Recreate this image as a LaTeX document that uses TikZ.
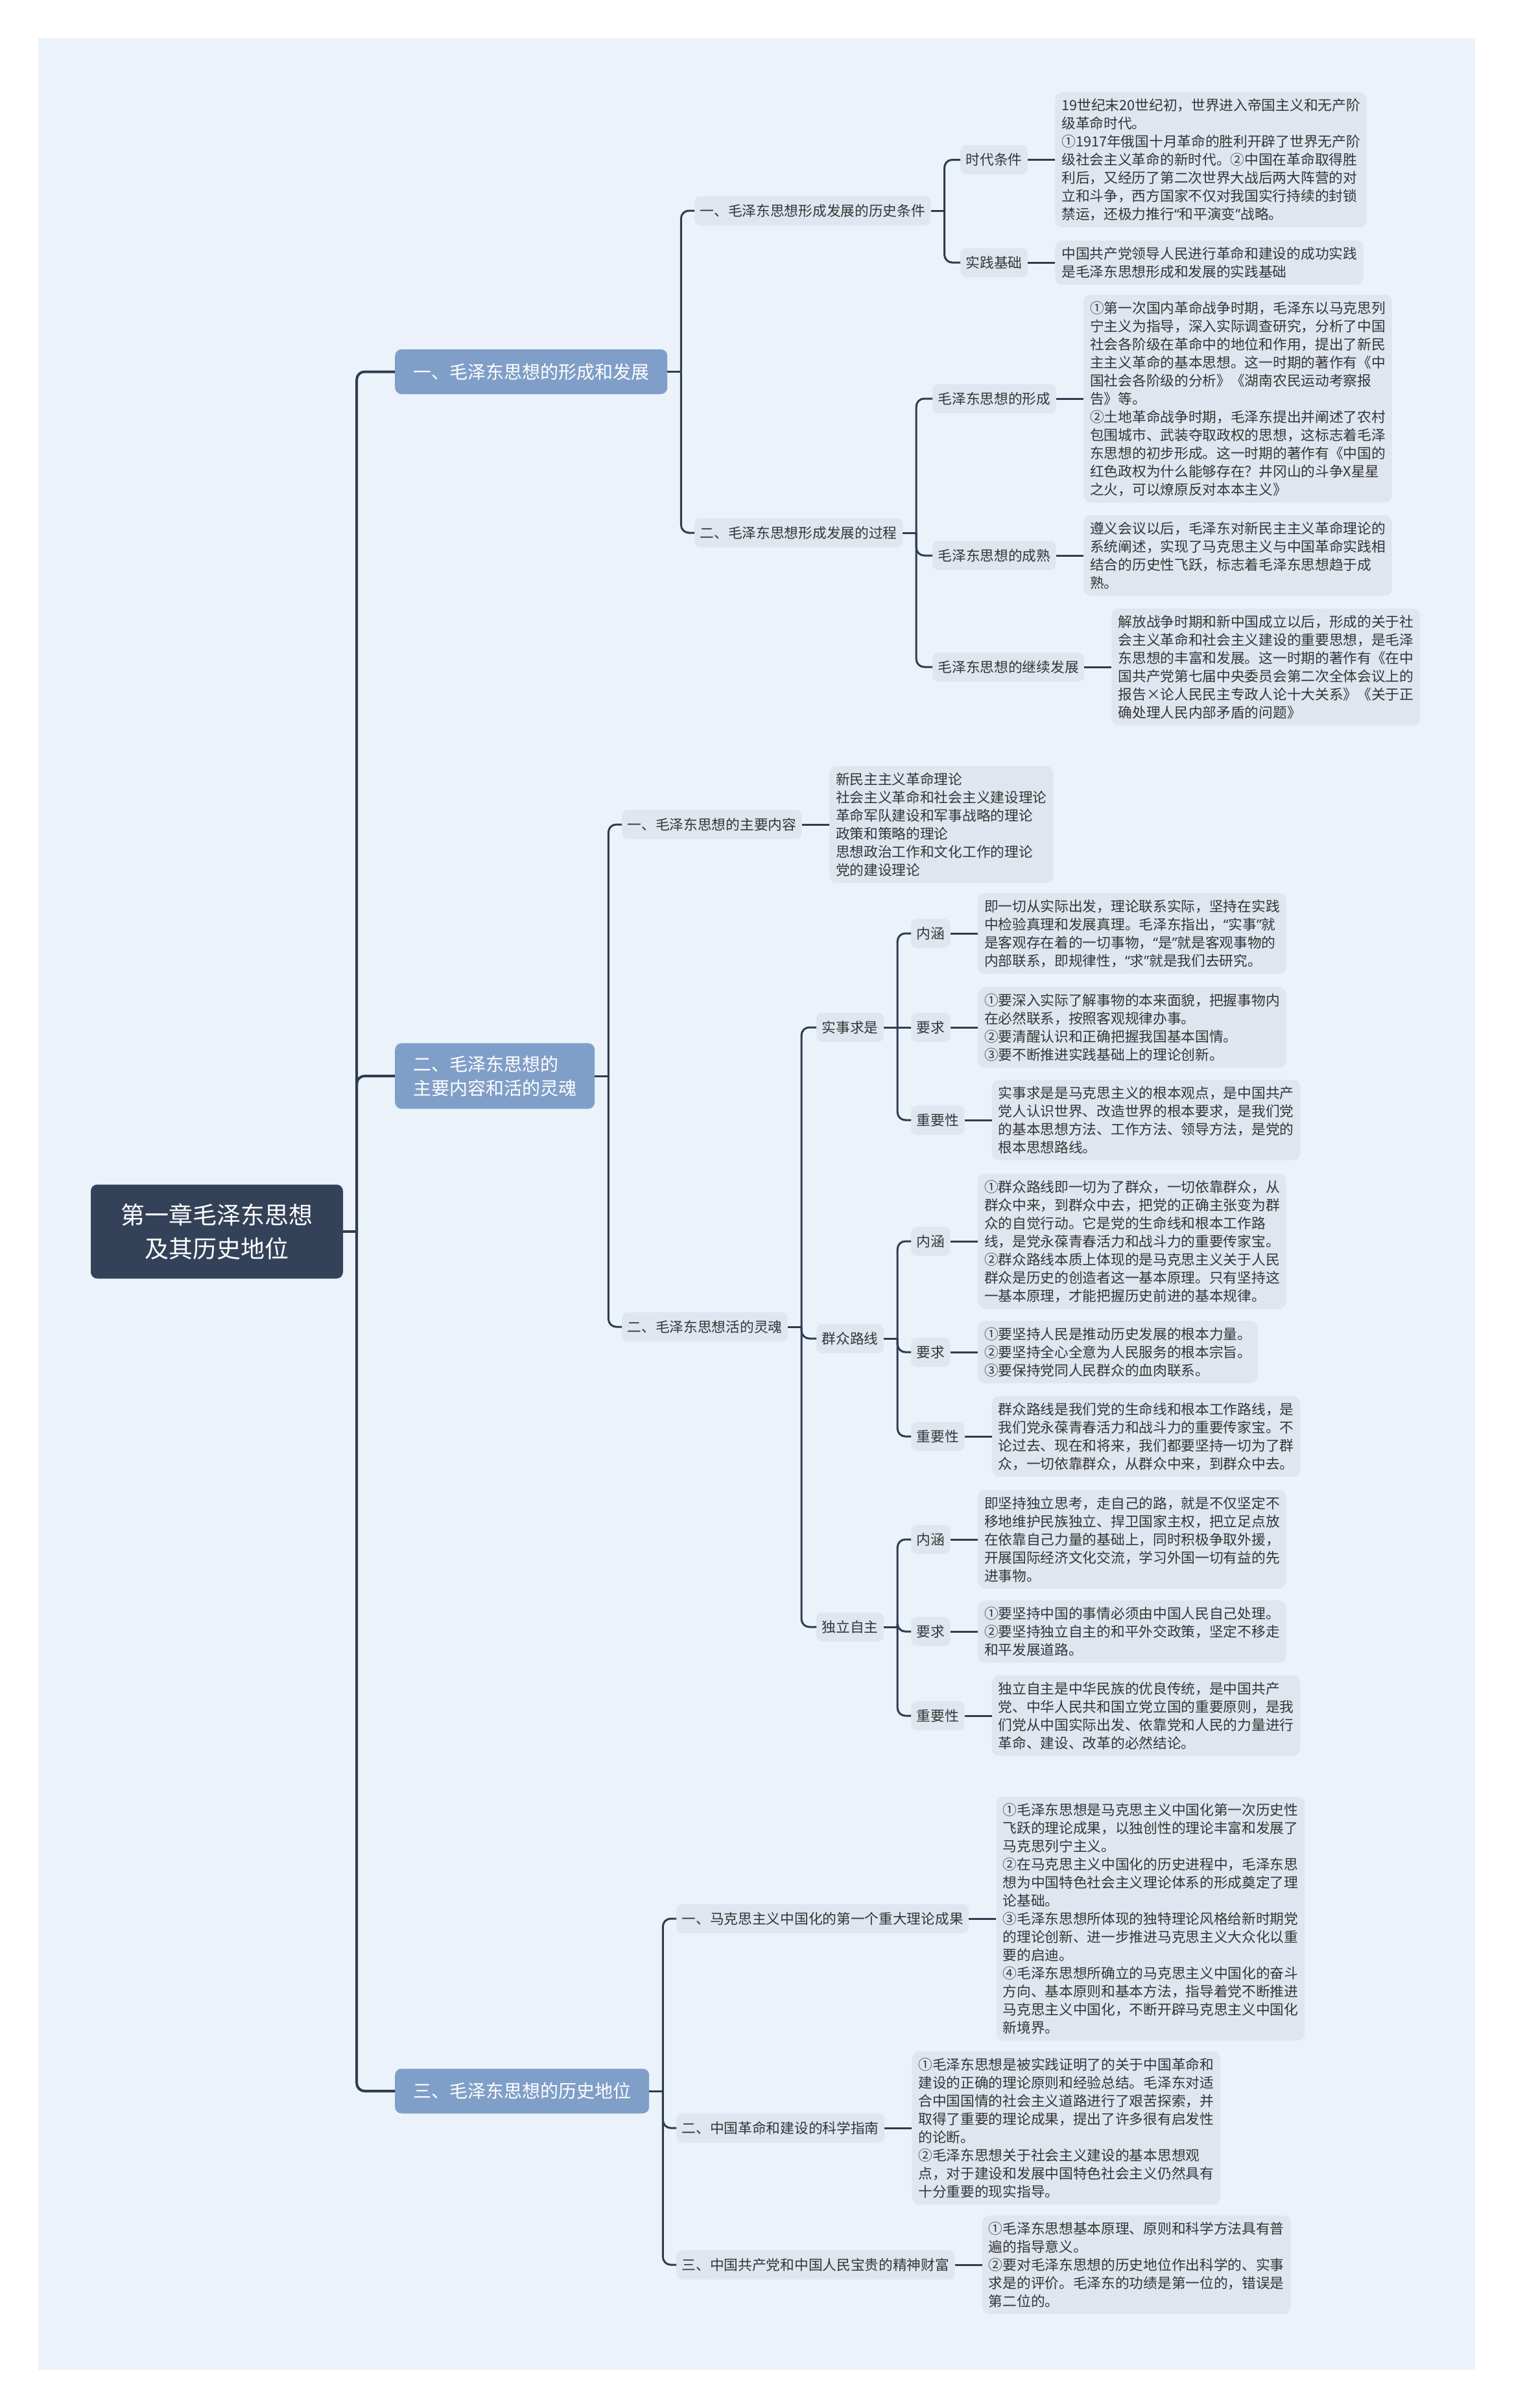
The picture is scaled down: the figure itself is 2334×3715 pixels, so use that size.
\documentclass[tikz,border=0pt]{standalone}
\usepackage{fontspec}
\setmainfont{Noto Sans CJK SC}
\newfontfamily\quotefont{Noto Sans}
\usepackage{xcolor}
\usetikzlibrary{positioning}

\definecolor{bgblue}{HTML}{EBF2FA}
\definecolor{rootnavy}{HTML}{344259}
\definecolor{topicblue}{HTML}{809FC8}
\definecolor{subgray}{HTML}{DFE6EF}
\definecolor{linknavy}{HTML}{2F3C50}
\definecolor{textgray}{HTML}{353535}

% narrow quote marks
\newcommand\lqt{{\quotefont“}}
\newcommand\rqt{{\quotefont”}}

\begin{document}
\begin{tikzpicture}[x=1pt, y=-1pt,
    rootbox/.style={fill=rootnavy, text=white, rounded corners=10pt, align=center,
                    minimum width=389pt, minimum height=145pt, inner sep=0pt,
                    font=\fontsize{37}{52}\selectfont},
    topicbox/.style={fill=topicblue, text=white, rounded corners=10pt, align=left, anchor=west,
                     minimum height=69pt, inner xsep=28pt, inner ysep=19pt,
                     font=\fontsize{28}{37}\selectfont},
    subbox/.style={fill=subgray, text=textgray, rounded corners=9pt, anchor=west,
                   minimum height=45pt, inner xsep=8.5pt, inner ysep=4pt,
                   font=\fontsize{21.7}{28}\selectfont},
    notebox/.style={fill=subgray, text=textgray, rounded corners=11pt, align=left,
                    inner xsep=10pt, inner ysep=10pt, right=42pt of #1,
                    font=\fontsize{21.7}{28}\selectfont},
    link/.style={draw=linknavy, line width=3pt, rounded corners=12pt},
    trunk/.style={link, line width=4pt}]

  % background
  \useasboundingbox (0,0) rectangle (2334,3715);
  \fill[bgblue] (59,59) rectangle (2275,3656);

  \node[rootbox] (root) at (334.5,1900) {第一章毛泽东思想\\及其历史地位};
  \node[topicbox] (tA) at (609,573.5) {一、毛泽东思想的形成和发展};
  \node[topicbox] (tB) at (609,1660) {二、毛泽东思想的\\主要内容和活的灵魂};
  \node[topicbox] (tC) at (609,3226) {三、毛泽东思想的历史地位};

  % part one
  \node[subbox] (A1) at (1071,325) {一、毛泽东思想形成发展的历史条件};
  \node[subbox] (A2) at (1071,822) {二、毛泽东思想形成发展的过程};
  \node[subbox] (A1a) at (1481,246.5) {时代条件};
  \node[subbox] (A1b) at (1481,405) {实践基础};
  \node[subbox] (A2a) at (1438,615) {毛泽东思想的形成};
  \node[subbox] (A2b) at (1438,857) {毛泽东思想的成熟};
  \node[subbox] (A2c) at (1438,1029) {毛泽东思想的继续发展};

  \node[notebox=A1a] (A1a-n) {19世纪末20世纪初，世界进入帝国主义和无产阶\\
级革命时代。\\
①1917年俄国十月革命的胜利开辟了世界无产阶\\
级社会主义革命的新时代。②中国在革命取得胜\\
利后，又经历了第二次世界大战后两大阵营的对\\
立和斗争，西方国家不仅对我国实行持续的封锁\\
禁运，还极力推行\lqt 和平演变\rqt 战略。};
  \node[notebox=A1b] (A1b-n) {中国共产党领导人民进行革命和建设的成功实践\\
是毛泽东思想形成和发展的实践基础};
  \node[notebox=A2a] (A2a-n) {①第一次国内革命战争时期，毛泽东以马克思列\\
宁主义为指导，深入实际调查研究，分析了中国\\
社会各阶级在革命中的地位和作用，提出了新民\\
主主义革命的基本思想。这一时期的著作有《中\\
国社会各阶级的分析》《湖南农民运动考察报\\
告》等。\\
②土地革命战争时期，毛泽东提出并阐述了农村\\
包围城市、武装夺取政权的思想，这标志着毛泽\\
东思想的初步形成。这一时期的著作有《中国的\\
红色政权为什么能够存在？井冈山的斗争X星星\\
之火，可以燎原反对本本主义》};
  \node[notebox=A2b] (A2b-n) {遵义会议以后，毛泽东对新民主主义革命理论的\\
系统阐述，实现了马克思主义与中国革命实践相\\
结合的历史性飞跃，标志着毛泽东思想趋于成\\
熟。};
  \node[notebox=A2c] (A2c-n) {解放战争时期和新中国成立以后，形成的关于社\\
会主义革命和社会主义建设的重要思想，是毛泽\\
东思想的丰富和发展。这一时期的著作有《在中\\
国共产党第七届中央委员会第二次全体会议上的\\
报告×论人民民主专政人论十大关系》《关于正\\
确处理人民内部矛盾的问题》};

  % part two
  \node[subbox] (B1) at (959,1272) {一、毛泽东思想的主要内容};
  \node[subbox] (B2) at (959,2047) {二、毛泽东思想活的灵魂};
  \node[subbox] (B2a) at (1259,1585) {实事求是};
  \node[subbox] (B2b) at (1259,2065) {群众路线};
  \node[subbox] (B2c) at (1259,2510) {独立自主};
  \node[subbox] (B2a-1) at (1405,1440) {内涵};
  \node[subbox] (B2a-2) at (1405,1585) {要求};
  \node[subbox] (B2a-3) at (1405,1728) {重要性};
  \node[subbox] (B2b-1) at (1405,1915) {内涵};
  \node[subbox] (B2b-2) at (1405,2086) {要求};
  \node[subbox] (B2b-3) at (1405,2216) {重要性};
  \node[subbox] (B2c-1) at (1405,2375) {内涵};
  \node[subbox] (B2c-2) at (1405,2517) {要求};
  \node[subbox] (B2c-3) at (1405,2647) {重要性};

  \node[notebox=B1] (B1-n) {新民主主义革命理论\\
社会主义革命和社会主义建设理论\\
革命军队建设和军事战略的理论\\
政策和策略的理论\\
思想政治工作和文化工作的理论\\
党的建设理论};
  \node[notebox=B2a-1] (B2a-1n) {即一切从实际出发，理论联系实际，坚持在实践\\
中检验真理和发展真理。毛泽东指出，\lqt 实事\rqt 就\\
是客观存在着的一切事物，\lqt 是\rqt 就是客观事物的\\
内部联系，即规律性，\lqt 求\rqt 就是我们去研究。};
  \node[notebox=B2a-2] (B2a-2n) {①要深入实际了解事物的本来面貌，把握事物内\\
在必然联系，按照客观规律办事。\\
②要清醒认识和正确把握我国基本国情。\\
③要不断推进实践基础上的理论创新。};
  \node[notebox=B2a-3] (B2a-3n) {实事求是是马克思主义的根本观点，是中国共产\\
党人认识世界、改造世界的根本要求，是我们党\\
的基本思想方法、工作方法、领导方法，是党的\\
根本思想路线。};
  \node[notebox=B2b-1] (B2b-1n) {①群众路线即一切为了群众，一切依靠群众，从\\
群众中来，到群众中去，把党的正确主张变为群\\
众的自觉行动。它是党的生命线和根本工作路\\
线，是党永葆青春活力和战斗力的重要传家宝。\\
②群众路线本质上体现的是马克思主义关于人民\\
群众是历史的创造者这一基本原理。只有坚持这\\
一基本原理，才能把握历史前进的基本规律。};
  \node[notebox=B2b-2] (B2b-2n) {①要坚持人民是推动历史发展的根本力量。\\
②要坚持全心全意为人民服务的根本宗旨。\\
③要保持党同人民群众的血肉联系。};
  \node[notebox=B2b-3] (B2b-3n) {群众路线是我们党的生命线和根本工作路线，是\\
我们党永葆青春活力和战斗力的重要传家宝。不\\
论过去、现在和将来，我们都要坚持一切为了群\\
众，一切依靠群众，从群众中来，到群众中去。};
  \node[notebox=B2c-1] (B2c-1n) {即坚持独立思考，走自己的路，就是不仅坚定不\\
移地维护民族独立、捍卫国家主权，把立足点放\\
在依靠自己力量的基础上，同时积极争取外援，\\
开展国际经济文化交流，学习外国一切有益的先\\
进事物。};
  \node[notebox=B2c-2] (B2c-2n) {①要坚持中国的事情必须由中国人民自己处理。\\
②要坚持独立自主的和平外交政策，坚定不移走\\
和平发展道路。};
  \node[notebox=B2c-3] (B2c-3n) {独立自主是中华民族的优良传统，是中国共产\\
党、中华人民共和国立党立国的重要原则，是我\\
们党从中国实际出发、依靠党和人民的力量进行\\
革命、建设、改革的必然结论。};

  % part three
  \node[subbox] (C1) at (1043,2960) {一、马克思主义中国化的第一个重大理论成果};
  \node[subbox] (C2) at (1043,3283) {二、中国革命和建设的科学指南};
  \node[subbox] (C3) at (1043,3494) {三、中国共产党和中国人民宝贵的精神财富};

  \node[notebox=C1] (C1-n) {①毛泽东思想是马克思主义中国化第一次历史性\\
飞跃的理论成果，以独创性的理论丰富和发展了\\
马克思列宁主义。\\
②在马克思主义中国化的历史进程中，毛泽东思\\
想为中国特色社会主义理论体系的形成奠定了理\\
论基础。\\
③毛泽东思想所体现的独特理论风格给新时期党\\
的理论创新、进一步推进马克思主义大众化以重\\
要的启迪。\\
④毛泽东思想所确立的马克思主义中国化的奋斗\\
方向、基本原则和基本方法，指导着党不断推进\\
马克思主义中国化，不断开辟马克思主义中国化\\
新境界。};
  \node[notebox=C2] (C2-n) {①毛泽东思想是被实践证明了的关于中国革命和\\
建设的正确的理论原则和经验总结。毛泽东对适\\
合中国国情的社会主义道路进行了艰苦探索，并\\
取得了重要的理论成果，提出了许多很有启发性\\
的论断。\\
②毛泽东思想关于社会主义建设的基本思想观\\
点，对于建设和发展中国特色社会主义仍然具有\\
十分重要的现实指导。};
  \node[notebox=C3] (C3-n) {①毛泽东思想基本原理、原则和科学方法具有普\\
遍的指导意义。\\
②要对毛泽东思想的历史地位作出科学的、实事\\
求是的评价。毛泽东的功绩是第一位的，错误是\\
第二位的。};

  % connectors
  \draw[trunk] (root.east) -- ++(21,0) coordinate (root-j);
  \foreach \c in {tA,tB,tC} \draw[trunk] (root-j) |- (\c.west);
  \foreach \p/\cs in {tA/{A1,A2}, A1/{A1a,A1b}, A2/{A2a,A2b,A2c},
                      tB/{B1,B2}, B2/{B2a,B2b,B2c}, B2b/{B2b-1,B2b-2,B2b-3},
                      B2c/{B2c-1,B2c-2,B2c-3}, tC/{C1,C2,C3}} {
    \draw[link] (\p.east) -- ++(21,0) coordinate (\p-j);
    \foreach \c in \cs \draw[link] (\p-j) |- (\c.west);
  }
  \draw[link] (B2a.east) -- (B2a-2.west);
  \draw[link] (B2a.east) -- ++(21,0) coordinate (B2a-j);
  \foreach \c in {B2a-1,B2a-3} \draw[link] (B2a-j) |- (\c.west);
  \foreach \n in {A1a,A1b,A2a,A2b,A2c,B1,C1,C2,C3}
    \draw[link] (\n.east) -- (\n-n.west);
  \foreach \n in {B2a-1,B2a-2,B2a-3,B2b-1,B2b-2,B2b-3,B2c-1,B2c-2,B2c-3}
    \draw[link] (\n.east) -- (\n n.west);
\end{tikzpicture}
\end{document}
